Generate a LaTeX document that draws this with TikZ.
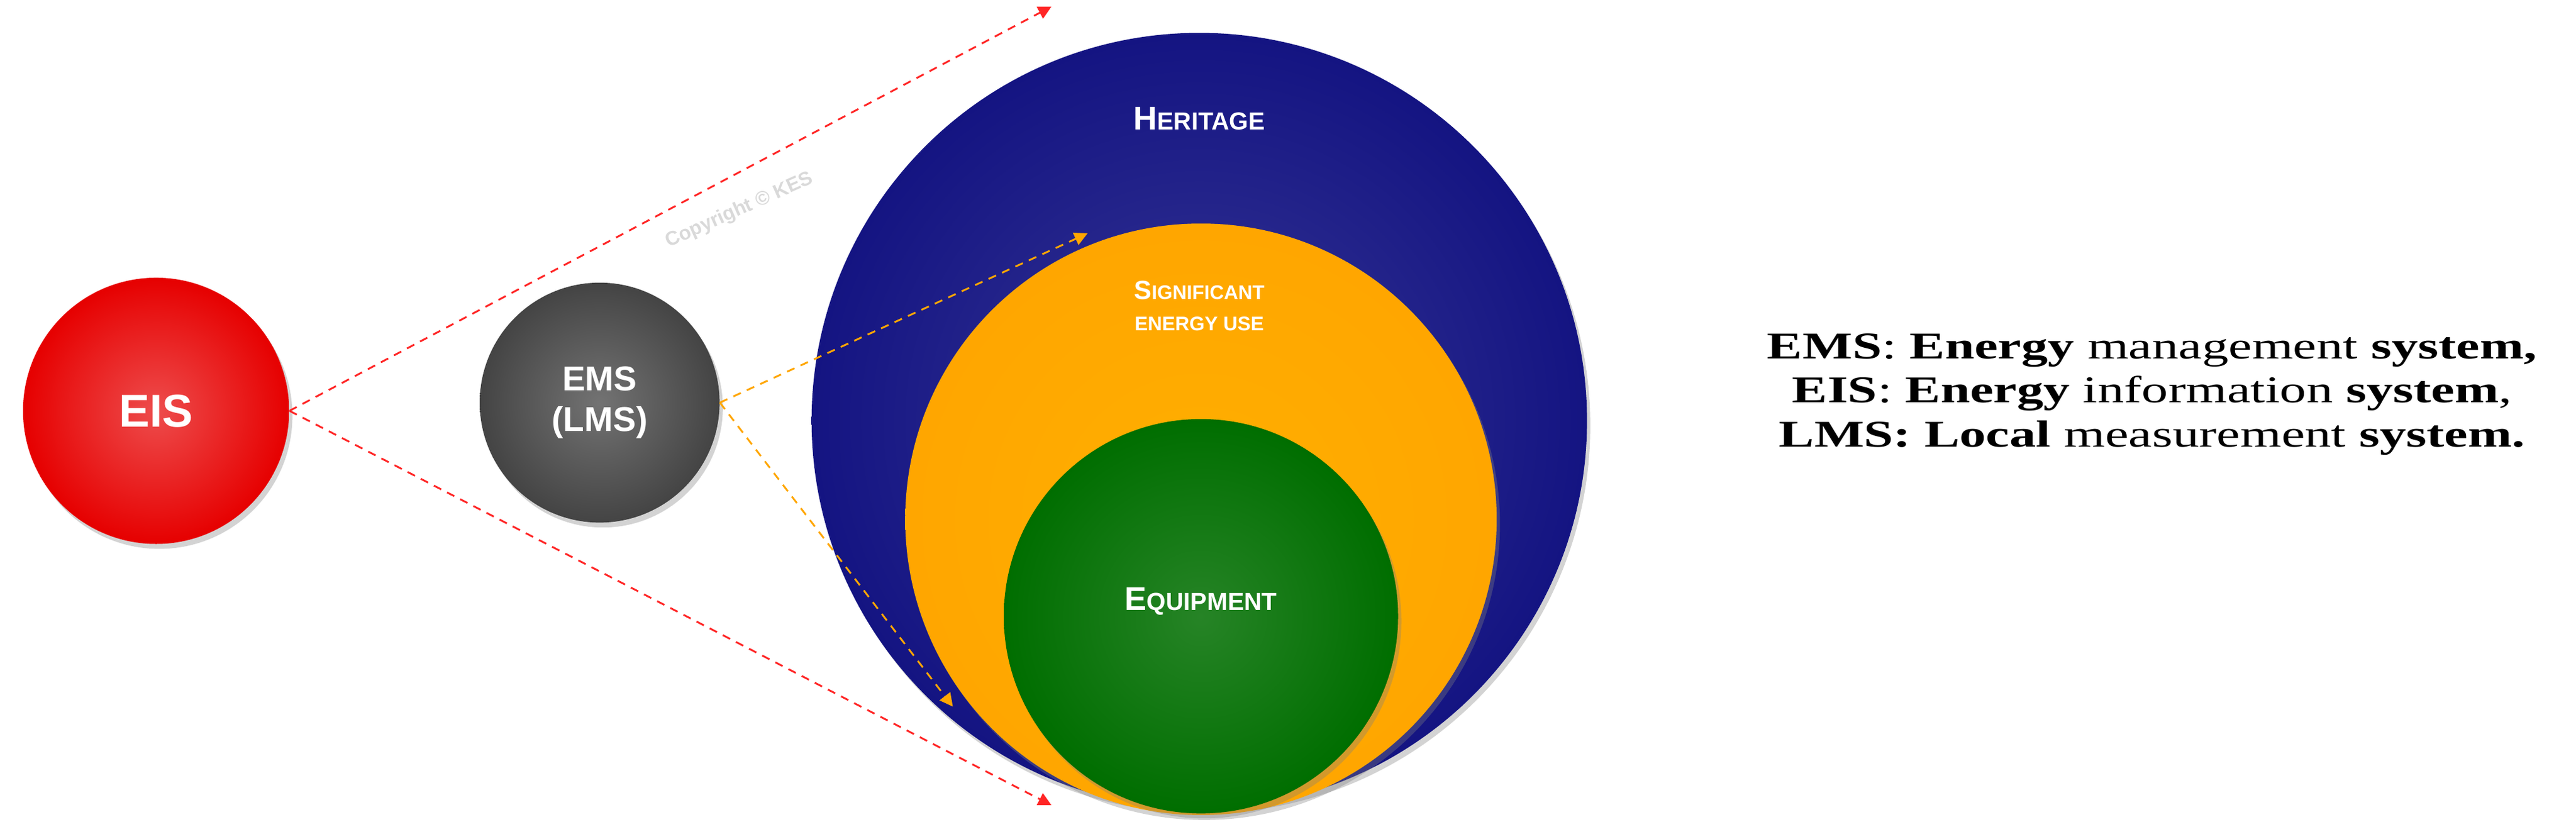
\documentclass[tikz,border=0pt]{standalone}
\usepackage{fontspec}
\setmainfont{Liberation Serif}
\setsansfont{Liberation Sans}
\usetikzlibrary{arrows.meta,shadows}
\definecolor{eisred}{RGB}{230,0,0}
\definecolor{emsgray}{RGB}{68,68,68}
\definecolor{herblue}{RGB}{20,20,130}
\definecolor{sigorange}{RGB}{255,166,0}
\definecolor{eqgreen}{RGB}{0,110,0}
\tikzset{
  ball/.style={circle,draw=none,inner sep=0pt,drop shadow={opacity=0.35,shadow xshift=2pt,shadow yshift=-3pt}},
  lbl/.style={text=white,font=\sffamily\bfseries,align=center},
  redarr/.style={draw=red!85!white,dashed,line width=1.1pt,dash pattern=on 5pt off 4pt,-{Triangle[length=8pt,width=8pt]}},
  orarr/.style={draw=sigorange,dashed,line width=1.1pt,dash pattern=on 5pt off 4pt,-{Triangle[length=8pt,width=8pt]}},
}
\begin{document}
\begin{tikzpicture}[x=1pt,y=-1pt]
\useasboundingbox (0,0) rectangle (1568,500);
% circles
\node[ball,minimum size=162pt,inner color=eisred!70!white,outer color=eisred] (eis) at (95,250) {};
\node[lbl,font=\sffamily\bfseries\fontsize{28}{30}\selectfont] at (eis) {EIS};
\node[ball,minimum size=146pt,inner color=emsgray!75!white,outer color=emsgray] (ems) at (365,245) {};
\node[lbl,font=\sffamily\bfseries\fontsize{21}{25}\selectfont] at (ems) {EMS\\(LMS)};
\node[ball,minimum size=472pt,inner color=herblue!85!white,outer color=herblue] (her) at (730,256) {};
\node[ball,minimum size=360pt,inner color=sigorange!90!yellow,outer color=sigorange] (sig) at (731,316) {};
\node[ball,minimum size=240pt,inner color=eqgreen!85!white,outer color=eqgreen] (eq) at (731,375) {};
\node[lbl,font=\sffamily\bfseries\fontsize{20}{20}\selectfont] (hert) at (730,72) {H\fontsize{15}{16}\selectfont ERITAGE};
\node[lbl,font=\sffamily\bfseries\fontsize{16}{19}\selectfont] (sigt) at (730,186) {S\fontsize{12}{19}\selectfont IGNIFICANT\\\fontsize{12}{19}\selectfont ENERGY USE};
\node[lbl,font=\sffamily\bfseries\fontsize{20}{20}\selectfont] (eqt) at (731,366) {E\fontsize{15}{16}\selectfont QUIPMENT};
\node[text=black!15,font=\sffamily\bfseries\fontsize{12}{12}\selectfont,rotate=24] (copy) at (450,128) {Copyright © KES};
% connectors
\coordinate (herTop) at (640,4);
\coordinate (herBot) at (640,490);
\coordinate (sigTop) at (662,142);
\coordinate (sigBot) at (580,430);
\draw[redarr] (eis.east) -- (herTop);
\draw[redarr] (eis.east) -- (herBot);
\draw[orarr] (ems.east) -- (sigTop);
\draw[orarr] (ems.east) -- (sigBot);
% legend
\node[font=\fontsize{23}{27}\selectfont,align=center,xscale=1.4] (leg) at (1310,240) {%
\textbf{EMS}: \textbf{Energy} management \textbf{system,}\\
\textbf{EIS}: \textbf{Energy} information \textbf{system},\\
\textbf{LMS: Local} measurement \textbf{system.}};
\end{tikzpicture}
\end{document}
